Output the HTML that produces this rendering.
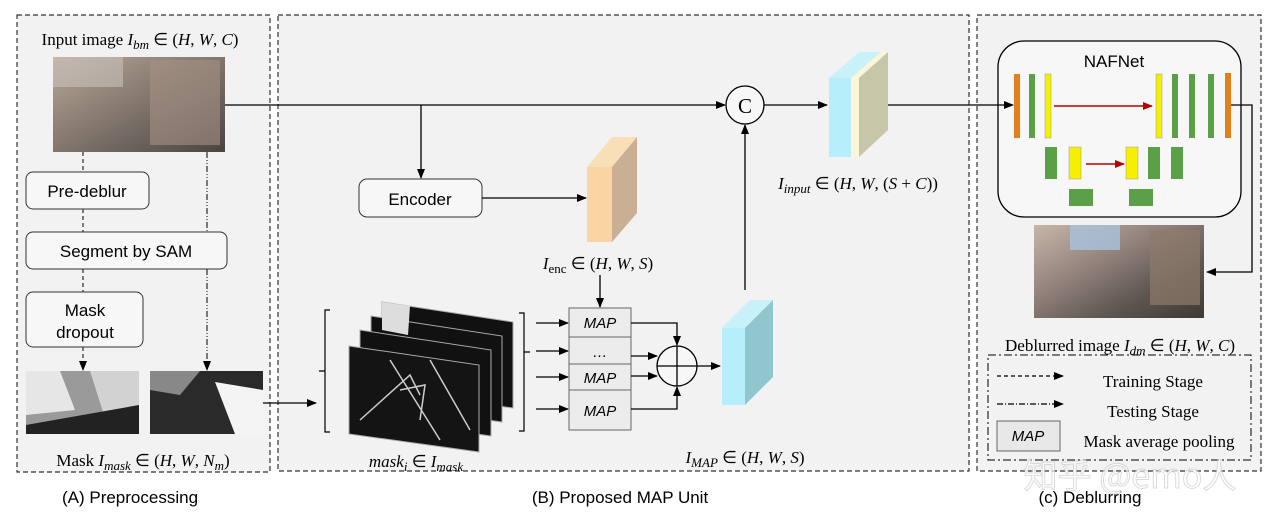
<!DOCTYPE html>
<html><head><meta charset="utf-8"><style>
html,body{margin:0;padding:0;background:#fff;}
svg{display:block;}
.s{font-family:"Comic Sans MS","Liberation Sans",sans-serif;}
.m{font-family:"Liberation Serif",serif;}
</style></head><body>
<svg width="1280" height="531" viewBox="0 0 1280 531" xmlns="http://www.w3.org/2000/svg">
<defs>
<marker id="a" markerWidth="10" markerHeight="10" refX="9" refY="5" orient="auto" markerUnits="userSpaceOnUse"><path d="M0,1 L10,5 L0,9 Z" fill="#000"/></marker>
<marker id="r" markerWidth="10" markerHeight="10" refX="9" refY="5" orient="auto" markerUnits="userSpaceOnUse"><path d="M0,1 L10,5 L0,9 Z" fill="#b00"/></marker>
<linearGradient id="ph" x1="0" y1="0" x2="1" y2="1"><stop offset="0" stop-color="#b9a99a"/><stop offset="0.4" stop-color="#8d7f74"/><stop offset="0.7" stop-color="#6b625d"/><stop offset="1" stop-color="#4a4440"/></linearGradient>
<linearGradient id="ph2" x1="0" y1="0" x2="1" y2="1"><stop offset="0" stop-color="#c7b6a7"/><stop offset="0.4" stop-color="#90807a"/><stop offset="0.7" stop-color="#5e5650"/><stop offset="1" stop-color="#3e3935"/></linearGradient>
</defs>
<rect x="17" y="15" width="253" height="457" fill="#f2f2f2" stroke="#333" stroke-dasharray="5,3" stroke-width="1.2"/>
<rect x="278" y="15" width="691" height="456" fill="#f2f2f2" stroke="#333" stroke-dasharray="5,3" stroke-width="1.2"/>
<rect x="977" y="15" width="284" height="456" fill="#f2f2f2" stroke="#333" stroke-dasharray="5,3" stroke-width="1.2"/>

<text x="140" y="45" class="m" font-size="17" text-anchor="middle">Input image <tspan font-style="italic">I</tspan><tspan font-style="italic" font-size="13" dy="4">bm</tspan><tspan dy="-4"> ∈ (<tspan font-style="italic">H</tspan>, <tspan font-style="italic">W</tspan>, <tspan font-style="italic">C</tspan>)</tspan></text>
<rect x="53" y="57" width="172" height="95" fill="url(#ph)"/>
<rect x="53" y="57" width="70" height="30" fill="#c9c2bd" opacity="0.6"/>
<rect x="150" y="60" width="70" height="85" fill="#a59184" opacity="0.6"/>
<line x1="83" y1="152" x2="83" y2="172" stroke="#000" stroke-dasharray="4,3"/>
<line x1="83" y1="209" x2="83" y2="232" stroke="#000" stroke-dasharray="4,3"/>
<line x1="83" y1="269" x2="83" y2="292" stroke="#000" stroke-dasharray="4,3"/>
<line x1="83" y1="347" x2="83" y2="370" stroke="#000" stroke-dasharray="4,3" marker-end="url(#a)"/>
<line x1="207" y1="152" x2="207" y2="232" stroke="#000" stroke-dasharray="6,2,1,2,1,2"/>
<line x1="207" y1="269" x2="207" y2="370" stroke="#000" stroke-dasharray="6,2,1,2,1,2" marker-end="url(#a)"/>
<rect x="26" y="172" width="123" height="37" rx="7" fill="#f7f7f7" stroke="#333"/>
<text x="87" y="197" class="s" font-size="17" text-anchor="middle">Pre-deblur</text>
<rect x="26" y="232" width="201" height="37" rx="7" fill="#f7f7f7" stroke="#333"/>
<text x="126" y="257" class="s" font-size="17" text-anchor="middle">Segment by SAM</text>
<rect x="26" y="292" width="117" height="55" rx="7" fill="#f7f7f7" stroke="#333"/>
<text x="85" y="316" class="s" font-size="17" text-anchor="middle">Mask</text>
<text x="85" y="338" class="s" font-size="17" text-anchor="middle">dropout</text>
<rect x="26" y="371" width="113" height="63" fill="#9a9a9a"/>
<polygon points="26,371 60,371 75,410 26,415" fill="#e6e6e6"/>
<polygon points="90,371 139,371 139,434 110,434" fill="#d2d2d2"/>
<polygon points="26,425 139,405 139,434 26,434" fill="#222"/>
<rect x="150" y="371" width="113" height="63" fill="#2a2a2a"/>
<polygon points="215,382 263,390 263,434 235,434" fill="#f4f4f4"/>
<polygon points="150,371 200,371 180,395 150,390" fill="#888"/>
<text x="143" y="466" class="m" font-size="17" text-anchor="middle">Mask <tspan font-style="italic">I</tspan><tspan font-style="italic" font-size="13" dy="4">mask</tspan><tspan dy="-4"> ∈ (<tspan font-style="italic">H</tspan>, <tspan font-style="italic">W</tspan>, <tspan font-style="italic">N</tspan></tspan><tspan font-style="italic" font-size="13" dy="4">m</tspan><tspan dy="-4">)</tspan></text>
<text x="130" y="503" class="s" font-size="17" text-anchor="middle">(A) Preprocessing</text>

<line x1="225" y1="105" x2="725" y2="105" stroke="#000" stroke-width="1.3" marker-end="url(#a)"/>
<line x1="421" y1="105" x2="421" y2="178" stroke="#000" stroke-width="1.3" marker-end="url(#a)"/>
<rect x="359" y="179" width="123" height="38" rx="8" fill="#f7f7f7" stroke="#333"/>
<text x="420" y="205" class="s" font-size="17" text-anchor="middle">Encoder</text>
<line x1="482" y1="198" x2="586" y2="198" stroke="#000" stroke-width="1.3" marker-end="url(#a)"/>
<polygon points="587,167 612,167 637,137 612,137" fill="#f9dfb8"/>
<polygon points="612,167 637,137 637,213 612,242" fill="#c9b094"/>
<rect x="587" y="167" width="25" height="75" fill="#fbd4a4"/>
<text x="598" y="269" class="m" font-size="17" text-anchor="middle"><tspan font-style="italic">I</tspan><tspan font-size="13" dy="4">enc</tspan><tspan dy="-4"> ∈ (<tspan font-style="italic">H</tspan>, <tspan font-style="italic">W</tspan>, <tspan font-style="italic">S</tspan>)</tspan></text>
<line x1="600" y1="275" x2="600" y2="307" stroke="#000" stroke-width="1.3" marker-end="url(#a)"/>
<polygon points="382,302 513,322 513,408 382,390" fill="#111" stroke="#aaa"/>
<polygon points="371,316 502,336 502,422 371,404" fill="#111" stroke="#aaa"/>
<polygon points="360,330 491,350 491,436 360,418" fill="#111" stroke="#aaa"/>
<polygon points="349,346 479,365 479,452 349,434" fill="#141414" stroke="#aaa"/>
<polygon points="382,302 410,306 408,335 382,330" fill="#ddd"/>
<path d="M360,420 L410,375 L420,395 M390,360 L440,440 M430,360 L470,430 M400,390 L425,385 L420,420" stroke="#ccc" stroke-width="1.5" fill="none"/>
<path d="M330,310 h-5 v122 h5 M319,371 h6" stroke="#000" fill="none" stroke-width="1.2"/>
<path d="M519,313 h5 v118 h-5 M524,352 h6" stroke="#000" fill="none" stroke-width="1.2"/>
<line x1="263" y1="403" x2="316" y2="403" stroke="#000" stroke-width="1.3" marker-end="url(#a)"/>
<text x="416" y="467" class="m" font-size="17" text-anchor="middle" font-style="italic">mask<tspan font-size="13" dy="4">i</tspan><tspan dy="-4" font-style="normal"> ∈ </tspan><tspan>I</tspan><tspan font-size="13" dy="4">mask</tspan></text>
<g stroke="#000" stroke-width="1.3">
<line x1="536" y1="323" x2="568" y2="323" marker-end="url(#a)"/>
<line x1="536" y1="351" x2="568" y2="351" marker-end="url(#a)"/>
<line x1="536" y1="377" x2="568" y2="377" marker-end="url(#a)"/>
<line x1="536" y1="409" x2="568" y2="409" marker-end="url(#a)"/>
</g>
<rect x="569" y="308" width="62" height="122" fill="#ececec" stroke="#666"/>
<g stroke="#666"><line x1="569" y1="337" x2="631" y2="337"/><line x1="569" y1="364" x2="631" y2="364"/><line x1="569" y1="390" x2="631" y2="390"/></g>
<g class="s" font-size="15" text-anchor="middle" font-style="italic"><text x="600" y="328">MAP</text><text x="600" y="357">…</text><text x="600" y="383">MAP</text><text x="600" y="416">MAP</text></g>
<g stroke="#000" stroke-width="1.3" fill="none">
<path d="M631,323 H677 V345" marker-end="url(#a)"/>
<path d="M631,409 H677 V387" marker-end="url(#a)"/>
<line x1="631" y1="356" x2="657" y2="356" marker-end="url(#a)"/>
<line x1="631" y1="376" x2="657" y2="376" marker-end="url(#a)"/>
</g>
<circle cx="677" cy="366" r="20" fill="#f7f7f7" stroke="#000" stroke-width="1.3"/>
<path d="M657,366 H697 M677,346 V386" stroke="#000" stroke-width="1.3"/>
<line x1="697" y1="366" x2="720" y2="366" stroke="#000" stroke-width="1.3" marker-end="url(#a)"/>
<polygon points="722,328 745,328 773,300 750,300" fill="#c8f1f9"/>
<polygon points="745,328 773,300 773,377 745,405" fill="#8fc7cc"/>
<rect x="722" y="328" width="23" height="77" fill="#b7eefb"/>
<text x="745" y="463" class="m" font-size="17" text-anchor="middle"><tspan font-style="italic">I</tspan><tspan font-style="italic" font-size="13" dy="4">MAP</tspan><tspan dy="-4"> ∈ (<tspan font-style="italic">H</tspan>, <tspan font-style="italic">W</tspan>, <tspan font-style="italic">S</tspan>)</tspan></text>
<line x1="745" y1="290" x2="745" y2="125" stroke="#000" stroke-width="1.3" marker-end="url(#a)"/>
<circle cx="745" cy="105" r="19" fill="#f7f7f7" stroke="#000" stroke-width="1.3"/>
<text x="745" y="113" class="m" font-size="21" text-anchor="middle">C</text>
<line x1="764" y1="105" x2="827" y2="105" stroke="#000" stroke-width="1.3" marker-end="url(#a)"/>
<polygon points="829,78 851,78 881,52 859,52" fill="#c8f1f9"/>
<polygon points="851,78 859,78 888,52 881,52" fill="#fbf6d8"/>
<polygon points="859,78 888,52 888,130 859,157" fill="#c6c6a8"/>
<rect x="829" y="78" width="22" height="79" fill="#b7eefb"/>
<rect x="851" y="78" width="8" height="79" fill="#fbf6d8"/>
<text x="858" y="189" class="m" font-size="17" text-anchor="middle"><tspan font-style="italic">I</tspan><tspan font-style="italic" font-size="13" dy="4">input</tspan><tspan dy="-4"> ∈ (<tspan font-style="italic">H</tspan>, <tspan font-style="italic">W</tspan>, (<tspan font-style="italic">S</tspan> + <tspan font-style="italic">C</tspan>))</tspan></text>
<text x="620" y="503" class="s" font-size="17" text-anchor="middle">(B) Proposed MAP Unit</text>

<rect x="998" y="41" width="243" height="176" rx="26" fill="#f7f7f7" stroke="#000" stroke-width="1.3"/>
<line x1="888" y1="105" x2="1013" y2="105" stroke="#000" stroke-width="1.3" marker-end="url(#a)"/>
<text x="1114" y="67" class="s" font-size="17" text-anchor="middle">NAFNet</text>
<g>
<rect x="1014" y="74" width="6" height="64" fill="#e4801c"/>
<rect x="1029" y="74" width="6" height="64" fill="#5aa046"/>
<rect x="1045" y="74" width="6" height="64" fill="#f5f000" stroke="#999" stroke-width="0.5"/>
<rect x="1156" y="74" width="6" height="64" fill="#f5f000" stroke="#999" stroke-width="0.5"/>
<rect x="1172" y="74" width="6" height="64" fill="#5aa046"/>
<rect x="1189" y="74" width="6" height="64" fill="#5aa046"/>
<rect x="1208" y="74" width="6" height="64" fill="#5aa046"/>
<rect x="1225" y="73" width="6" height="65" fill="#e4801c"/>
<rect x="1045" y="147" width="12" height="32" fill="#5aa046"/>
<rect x="1069" y="147" width="12" height="32" fill="#f5f000" stroke="#999" stroke-width="0.5"/>
<rect x="1126" y="147" width="12" height="32" fill="#f5f000" stroke="#999" stroke-width="0.5"/>
<rect x="1148" y="147" width="12" height="32" fill="#5aa046"/>
<rect x="1171" y="147" width="12" height="32" fill="#5aa046"/>
<rect x="1069" y="189" width="24" height="17" fill="#5aa046"/>
<rect x="1129" y="189" width="24" height="17" fill="#5aa046"/>
<line x1="1054" y1="106" x2="1152" y2="106" stroke="#b00" stroke-width="1.5" marker-end="url(#r)"/>
<line x1="1086" y1="164" x2="1124" y2="164" stroke="#b00" stroke-width="1.5" marker-end="url(#r)"/>
</g>
<path d="M1231,105 H1252 V272 H1207" stroke="#000" stroke-width="1.3" fill="none" marker-end="url(#a)"/>
<rect x="1034" y="225" width="170" height="93" fill="url(#ph2)"/>
<rect x="1070" y="225" width="50" height="25" fill="#a9c3dc" opacity="0.8"/>
<rect x="1150" y="230" width="50" height="75" fill="#8e7a6c" opacity="0.7"/>
<text x="1120" y="351" class="m" font-size="17" text-anchor="middle">Deblurred image <tspan font-style="italic">I</tspan><tspan font-style="italic" font-size="13" dy="4">dm</tspan><tspan dy="-4"> ∈ (<tspan font-style="italic">H</tspan>, <tspan font-style="italic">W</tspan>, <tspan font-style="italic">C</tspan>)</tspan></text>
<rect x="988" y="355" width="263" height="105" fill="none" stroke="#000" stroke-dasharray="8,3,2,3"/>
<line x1="997" y1="376" x2="1063" y2="376" stroke="#000" stroke-dasharray="4,3" stroke-width="1.2" marker-end="url(#a)"/>
<line x1="997" y1="404" x2="1063" y2="404" stroke="#000" stroke-dasharray="6,2,1,2" stroke-width="1.2" marker-end="url(#a)"/>
<text x="1153" y="387" class="m" font-size="17" text-anchor="middle">Training Stage</text>
<text x="1153" y="417" class="m" font-size="17" text-anchor="middle">Testing Stage</text>
<rect x="997" y="421" width="63" height="30" fill="#e8e8e8" stroke="#666"/>
<text x="1028" y="441" class="s" font-size="15" text-anchor="middle" font-style="italic">MAP</text>
<text x="1159" y="447" class="m" font-size="17" text-anchor="middle">Mask average pooling</text>
<text x="1090" y="503" class="s" font-size="17" text-anchor="middle">(c) Deblurring</text>
<text x="1130" y="488" font-family="'Noto Sans CJK SC',sans-serif" font-size="34" fill="#fff" stroke="#ccc" stroke-width="1" opacity="0.7" text-anchor="middle">知乎 @emo人</text>
</svg>
</body></html>
